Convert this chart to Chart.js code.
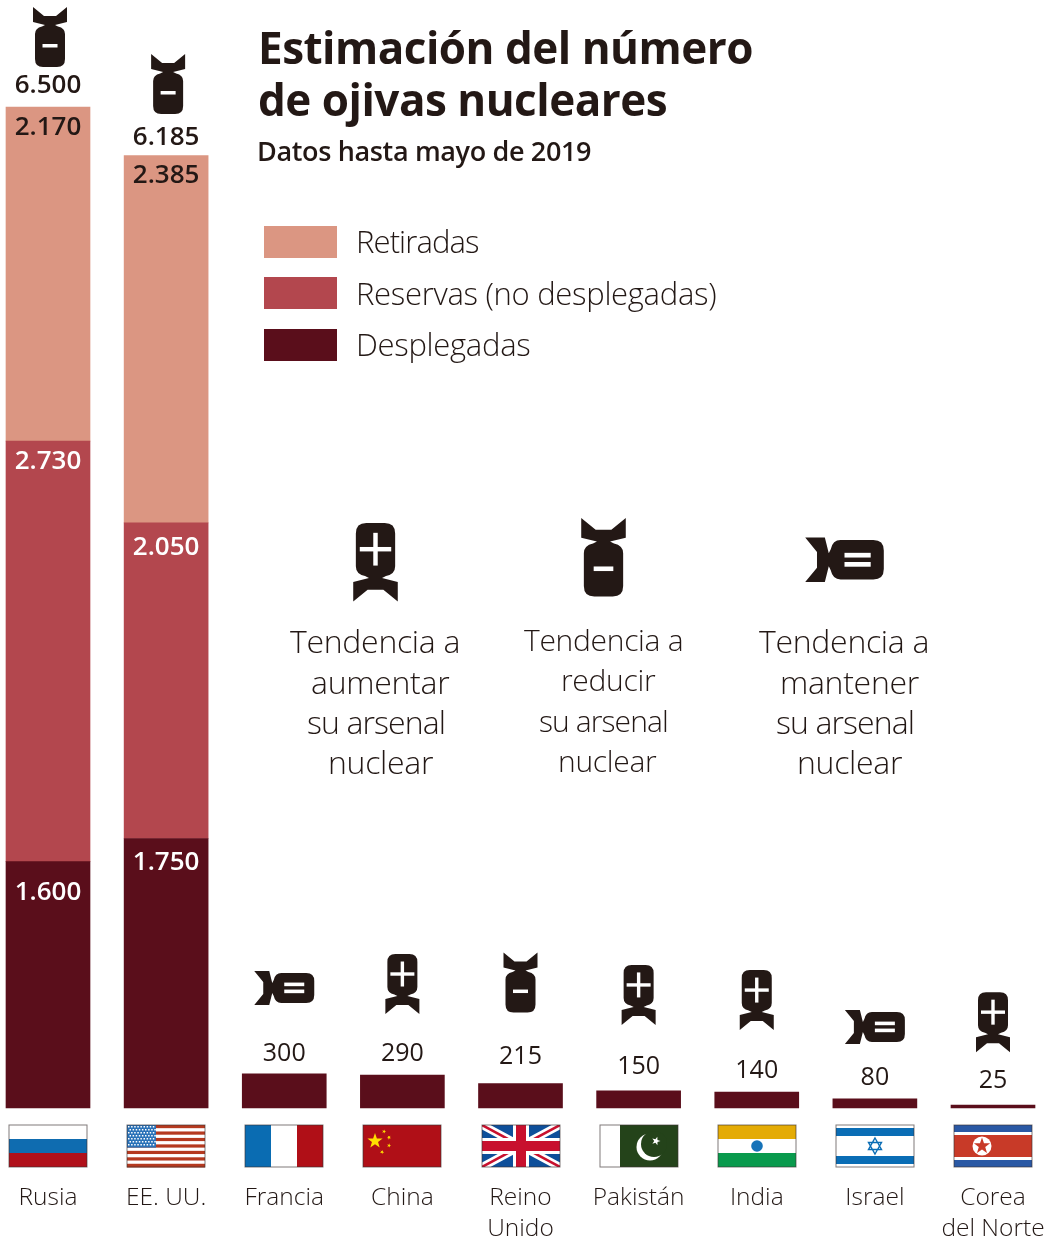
<!DOCTYPE html>
<html lang="es">
<head>
<meta charset="utf-8">
<title>Estimación del número de ojivas nucleares</title>
<script src="https://cdn.jsdelivr.net/npm/chart.js@4"></script>
<style>
    html, body { margin: 0; padding: 0; background: #fff; }
    #page { position: relative; width: 1063px; height: 1251px; overflow: hidden; color: #231815; font-family: "Open Sans", sans-serif; }
    #chartWrap { position: absolute; left: 0; top: 0; width: 1063px; height: 1251px; }
    .t { position: absolute; white-space: nowrap; line-height: 1; transform: translateY(-50%); }
    .title { font-size: 44px; font-weight: 700; letter-spacing: -0.5px; }
    .sub { font-size: 27px; font-weight: 600; letter-spacing: -0.35px; }
    .leg { font-size: 31px; font-weight: 300; letter-spacing: -0.3px; }
    .note { font-size: 32px; font-weight: 300; letter-spacing: -0.3px; }
    .noteSmall { font-size: 30px; }
    .tight { letter-spacing: -0.9px; }
    .swatch { position: absolute; left: 264px; width: 73px; height: 32px; }
</style>
</head>
<body>
<div id="page">
    <div id="chartWrap"><canvas id="nukeChart"></canvas></div>

    <div class="t title" style="left:258px;top:47px">Estimación del número</div>
    <div class="t title" style="left:258px;top:99px">de ojivas nucleares</div>
    <div class="t sub" style="left:257px;top:150px">Datos hasta mayo de 2019</div>

    <div class="swatch" style="top:226px;background:#db9682"></div>
    <div class="swatch" style="top:277px;background:#b3474e"></div>
    <div class="swatch" style="top:329px;background:#5a0e1b"></div>
    <div class="t leg tight" style="left:356px;top:241px">Retiradas</div>
    <div class="t leg" style="left:356px;top:293px">Reservas (no desplegadas)</div>
    <div class="t leg" style="left:356px;top:344px">Desplegadas</div>

    <div class="t note" style="left:290px;top:641px">Tendencia a</div>
    <div class="t note" style="left:311px;top:682px">aumentar</div>
    <div class="t note tight" style="left:307px;top:722px">su arsenal</div>
    <div class="t note" style="left:328px;top:762px">nuclear</div>

    <div class="t note noteSmall" style="left:524px;top:640px">Tendencia a</div>
    <div class="t note noteSmall" style="left:561px;top:680px">reducir</div>
    <div class="t note noteSmall tight" style="left:539px;top:721px">su arsenal</div>
    <div class="t note noteSmall" style="left:558px;top:761px">nuclear</div>

    <div class="t note" style="left:759px;top:641px">Tendencia a</div>
    <div class="t note" style="left:780px;top:682px">mantener</div>
    <div class="t note tight" style="left:776px;top:722px">su arsenal</div>
    <div class="t note" style="left:797px;top:762px">nuclear</div>
</div>

<script>
// values
const countries = ['Rusia', 'EE. UU.', 'Francia', 'China', ['Reino', 'Unido'], 'Pakistán', 'India', 'Israel', ['Corea', 'del Norte']];
const retired = [2170, 2385, null, null, null, null, null, null, null];
const reserve = [2730, 2050, null, null, null, null, null, null, null];
const deployed = [1600, 1750, null, null, null, null, null, null, null];
// the seven small arsenals are drawn to a different scale in the original
const smallArsenals = [null, null, 300, 290, 215, 150, 140, 80, 25];
const trends = ['minus', 'minus', 'equal', 'plus', 'minus', 'plus', 'plus', 'equal', 'plus'];
const flags = ['ru', 'us', 'fr', 'cn', 'gb', 'pk', 'in', 'il', 'kp'];

const INK = '#231815';
const FONT = '"Open Sans", sans-serif';
const BAR_BOTTOM = 1108;
// how far above the bar top each total and each icon sits
const totalLift = [21, 17.5, 20, 21, 27, 24, 21, 21, 24];
const iconLift = [100, 101.5, 103, 121, 131, 126, 122, 89, 113];
// label offset below each segment's top, retired / reserve / deployed
const segmentDrop = [[21, 20, 31], [20, 25, 24]];

const fmt = v => String(v).replace(/\B(?=(\d{3})+$)/g, '.');

function bombBody(ctx) {
    ctx.beginPath();
    ctx.moveTo(-17, 0);
    ctx.lineTo(-6, 9);
    ctx.lineTo(6, 9);
    ctx.lineTo(17, 0);
    ctx.lineTo(17, 15);
    ctx.lineTo(5, 18);
    ctx.lineTo(8, 19.5);
    ctx.quadraticCurveTo(15, 21, 15, 27);
    ctx.lineTo(15, 52);
    ctx.quadraticCurveTo(15, 60, 7, 60);
    ctx.lineTo(-7, 60);
    ctx.quadraticCurveTo(-15, 60, -15, 52);
    ctx.lineTo(-15, 27);
    ctx.quadraticCurveTo(-15, 21, -8, 19.5);
    ctx.lineTo(-5, 18);
    ctx.lineTo(-17, 15);
    ctx.closePath();
    ctx.fillStyle = INK;
    ctx.fill();
}

// kind: minus = fins up, plus = fins down, equal = fins left. box is 34x60 at s=1
function drawBomb(ctx, kind, cx, top, s) {
    ctx.save();
    if (kind === 'minus') {
        ctx.translate(cx, top);
        ctx.scale(s, s);
        bombBody(ctx);
        ctx.fillStyle = '#fff';
        ctx.fillRect(-7.5, 37, 15, 3.5);
    } else if (kind === 'plus') {
        ctx.translate(cx, top + 60 * s);
        ctx.scale(s, -s);
        bombBody(ctx);
        ctx.fillStyle = '#fff';
        ctx.fillRect(-12, 38.3, 24, 3.4);
        ctx.fillRect(-1.7, 27.5, 3.4, 25);
    } else {
        ctx.translate(cx - 30 * s, top + 17 * s);
        ctx.rotate(-Math.PI / 2);
        ctx.scale(s, s);
        bombBody(ctx);
        ctx.fillStyle = '#fff';
        ctx.fillRect(1.7, 30, 3.6, 20);
        ctx.fillRect(-5.3, 30, 3.6, 20);
    }
    ctx.restore();
}

function star(ctx, x, y, r, rot, color) {
    ctx.beginPath();
    for (let i = 0; i < 10; i++) {
        const a = rot - Math.PI / 2 + i * Math.PI / 5;
        const rad = i % 2 ? r * 0.4 : r;
        ctx.lineTo(x + rad * Math.cos(a), y + rad * Math.sin(a));
    }
    ctx.closePath();
    ctx.fillStyle = color;
    ctx.fill();
}

// every flag is painted in a 78x42 box with the origin at its top left corner
const flagPainters = {
    ru(ctx) {
        ctx.fillStyle = '#fff'; ctx.fillRect(0, 0, 78, 14);
        ctx.fillStyle = '#0f6cb0'; ctx.fillRect(0, 14, 78, 14);
        ctx.fillStyle = '#b0101a'; ctx.fillRect(0, 28, 78, 14);
    },
    us(ctx) {
        for (let i = 0; i < 13; i++) {
            ctx.fillStyle = i % 2 ? '#fff' : '#b5391f';
            ctx.fillRect(0, i * 42 / 13, 78, 42 / 13 + 0.5);
        }
        ctx.fillStyle = '#2a72b8';
        ctx.fillRect(0, 0, 29, 22.6);
        ctx.fillStyle = '#fff';
        for (let r = 0; r < 7; r++) {
            for (let c = 0; c < 9; c++) {
                ctx.fillRect(1 + c * 3.1 + (r % 2) * 1.5, 1 + r * 3, 1.5, 1.5);
            }
        }
    },
    fr(ctx) {
        ctx.fillStyle = '#0a6cb2'; ctx.fillRect(0, 0, 26, 42);
        ctx.fillStyle = '#fff'; ctx.fillRect(26, 0, 26, 42);
        ctx.fillStyle = '#b00f17'; ctx.fillRect(52, 0, 26, 42);
    },
    cn(ctx) {
        ctx.fillStyle = '#b00f17'; ctx.fillRect(0, 0, 78, 42);
        star(ctx, 12, 16, 8, 0, '#ffe000');
        star(ctx, 21, 6.5, 2.2, 0.3, '#ffe000');
        star(ctx, 26, 12.5, 2.2, 0.7, '#ffe000');
        star(ctx, 26, 20.5, 2.2, 0.2, '#ffe000');
        star(ctx, 19, 27, 2.2, 0.5, '#ffe000');
    },
    gb(ctx) {
        ctx.fillStyle = '#0e4f9a'; ctx.fillRect(0, 0, 78, 42);
        ctx.lineCap = 'butt';
        ctx.save();
        ctx.beginPath(); ctx.rect(0, 0, 78, 42); ctx.clip();
        ctx.strokeStyle = '#fff'; ctx.lineWidth = 8;
        ctx.beginPath(); ctx.moveTo(0, 0); ctx.lineTo(78, 42); ctx.moveTo(78, 0); ctx.lineTo(0, 42); ctx.stroke();
        ctx.strokeStyle = '#c8102e'; ctx.lineWidth = 2.5;
        ctx.beginPath(); ctx.moveTo(0, 0); ctx.lineTo(78, 42); ctx.moveTo(78, 0); ctx.lineTo(0, 42); ctx.stroke();
        ctx.restore();
        ctx.fillStyle = '#fff'; ctx.fillRect(31, 0, 16, 42); ctx.fillRect(0, 13, 78, 16);
        ctx.fillStyle = '#c8102e'; ctx.fillRect(34, 0, 10, 42); ctx.fillRect(0, 16, 78, 10);
    },
    pk(ctx) {
        ctx.fillStyle = '#fff'; ctx.fillRect(0, 0, 20, 42);
        ctx.fillStyle = '#24431a'; ctx.fillRect(20, 0, 58, 42);
        ctx.fillStyle = '#fff';
        ctx.beginPath(); ctx.arc(50, 22, 13.5, 0, Math.PI * 2); ctx.fill();
        ctx.fillStyle = '#24431a';
        ctx.beginPath(); ctx.arc(54, 19, 13, 0, Math.PI * 2); ctx.fill();
        star(ctx, 56, 16, 4.5, 0.3, '#fff');
    },
    in(ctx) {
        ctx.fillStyle = '#e4ab05'; ctx.fillRect(0, 0, 78, 14);
        ctx.fillStyle = '#fff'; ctx.fillRect(0, 14, 78, 14);
        ctx.fillStyle = '#099a4d'; ctx.fillRect(0, 28, 78, 14);
        ctx.fillStyle = '#1672b8';
        ctx.beginPath(); ctx.arc(39, 21, 5.8, 0, Math.PI * 2); ctx.fill();
    },
    il(ctx) {
        ctx.fillStyle = '#fff'; ctx.fillRect(0, 0, 78, 42);
        ctx.fillStyle = '#0a6db5'; ctx.fillRect(0, 3, 78, 8); ctx.fillRect(0, 31, 78, 8);
        ctx.strokeStyle = '#0a6db5'; ctx.lineWidth = 1.4;
        ctx.beginPath();
        ctx.moveTo(39, 13); ctx.lineTo(45.5, 24.5); ctx.lineTo(32.5, 24.5); ctx.closePath();
        ctx.moveTo(39, 29); ctx.lineTo(45.5, 17.5); ctx.lineTo(32.5, 17.5); ctx.closePath();
        ctx.stroke();
    },
    kp(ctx) {
        ctx.fillStyle = '#2a58a4'; ctx.fillRect(0, 0, 78, 42);
        ctx.fillStyle = '#fff'; ctx.fillRect(0, 7, 78, 28);
        ctx.fillStyle = '#c83a28'; ctx.fillRect(0, 10, 78, 22);
        ctx.fillStyle = '#fff';
        ctx.beginPath(); ctx.arc(28, 21, 9.5, 0, Math.PI * 2); ctx.fill();
        star(ctx, 28, 21, 8.5, 0, '#c83a28');
    }
};

const annotationPlugin = {
    id: 'annotations',
    afterDatasetsDraw(chart) {
        const ctx = chart.ctx;
        const x = chart.scales.x;
        const y = chart.scales.y;
        const y2 = chart.scales.y2;

        ctx.save();
        ctx.textAlign = 'center';
        ctx.textBaseline = 'middle';

        countries.forEach((name, i) => {
            const cx = x.getPixelForValue(i);
            const big = deployed[i] !== null;
            const total = big ? retired[i] + reserve[i] + deployed[i] : smallArsenals[i];
            const top = big ? y.getPixelForValue(total) : y2.getPixelForValue(total);

            // total on top of the bar and trend icon above it
            ctx.fillStyle = INK;
            ctx.font = (big ? '600 26px ' : '400 25px ') + FONT;
            ctx.fillText(fmt(total), cx, top - totalLift[i]);
            drawBomb(ctx, trends[i], cx + (big ? 2 : 0), top - iconLift[i], 1);

            // segment values on the two big bars
            if (big) {
                ctx.font = '600 26px ' + FONT;
                let running = total;
                [retired, reserve, deployed].forEach((series, s) => {
                    ctx.fillStyle = s === 0 ? INK : '#fff';
                    ctx.fillText(fmt(series[i]), cx, y.getPixelForValue(running) + segmentDrop[i][s]);
                    running -= series[i];
                });
            }

            // flag
            const fx = Math.round(cx - 39);
            ctx.save();
            ctx.translate(fx, BAR_BOTTOM + 17);
            flagPainters[flags[i]](ctx);
            ctx.strokeStyle = 'rgba(60,50,50,0.65)';
            ctx.lineWidth = 1;
            ctx.strokeRect(0, 0, 78, 42);
            ctx.restore();
        });

        // the three icons of the key
        drawBomb(ctx, 'plus', 375.5, 523, 1.31);
        drawBomb(ctx, 'minus', 603.5, 518, 1.31);
        drawBomb(ctx, 'equal', 844.5, 537.5, 1.31);
        ctx.restore();
    }
};

new Chart(document.getElementById('nukeChart').getContext('2d'), {
    type: 'bar',
    data: {
        labels: countries,
        datasets: [
            { label: 'Desplegadas', data: deployed, backgroundColor: '#5a0e1b', yAxisID: 'y', stack: 'all', clip: false },
            { label: 'Reservas (no desplegadas)', data: reserve, backgroundColor: '#b3474e', yAxisID: 'y', stack: 'all', clip: false },
            { label: 'Retiradas', data: retired, backgroundColor: '#db9682', yAxisID: 'y', stack: 'all', clip: false },
            { label: 'Desplegadas', data: smallArsenals, backgroundColor: '#5a0e1b', yAxisID: 'y2', stack: 'all', clip: false }
        ]
    },
    options: {
        responsive: true,
        maintainAspectRatio: false,
        animation: false,
        barThickness: 84,
        layout: { padding: { left: 48, right: 70, top: 107, bottom: 0 } },
        plugins: {
            legend: { display: false },
            title: { display: false },
            tooltip: { enabled: false }
        },
        scales: {
            x: {
                stacked: true,
                offset: false,
                border: { display: false },
                grid: { display: false, drawTicks: false },
                afterFit: scale => {
                    // the big tick padding would otherwise inset the plot sideways
                    scale.height = 1251 - BAR_BOTTOM;
                    scale.paddingLeft = 0;
                    scale.paddingRight = 0;
                },
                ticks: {
                    autoSkip: false,
                    maxRotation: 0,
                    padding: 74,
                    color: INK,
                    font: { family: FONT, size: 24.5, weight: '300', lineHeight: 1.27 }
                }
            },
            y: { display: false, stacked: true, min: 0, max: 6500 },
            y2: { display: false, stacked: true, min: 0, max: 8800 }
        }
    },
    plugins: [annotationPlugin]
});
</script>
</body>
</html>
